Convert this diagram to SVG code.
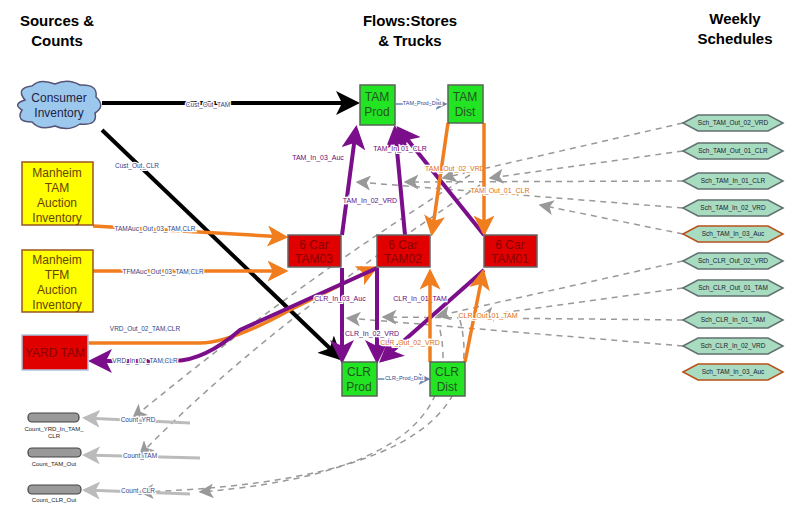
<svg xmlns="http://www.w3.org/2000/svg" width="800" height="514" viewBox="0 0 800 514">
<style>
text{font-family:"Liberation Sans",Arial,sans-serif}
.title{font-size:15px;font-weight:bold;fill:#000;text-anchor:middle}
.nt{font-size:12px;text-anchor:middle}
.lb,.lp,.lo{paint-order:stroke;stroke:#fff;stroke-width:2.5px;text-anchor:middle}
.lb{font-size:6.5px;fill:#334488}
.lp{font-size:7px;fill:#6a0a7a}
.lo{font-size:7px;fill:#e07010}
.green{fill:#22e422;stroke:#556655;stroke-width:1.5}
.red{fill:#e00000;stroke:#666;stroke-width:1.5}
.yel{fill:#ffff00;stroke:#995522;stroke-width:1.5}
.hex{fill:#a8dcc0;stroke:#607070;stroke-width:1.5}
.hexo{fill:#a8dcc0;stroke:#b8501a;stroke-width:1.5}
.ht{font-size:6.5px;fill:#223;text-anchor:middle}
.blk{stroke:#000;stroke-width:4;fill:none;marker-end:url(#mk)}
.pur{stroke:#7b0e8a;stroke-width:4;fill:none;marker-end:url(#mp)}
.org{stroke:#f07d1e;stroke-width:3.5;fill:none;marker-end:url(#mo)}
.bl{stroke:#6a86b0;stroke-width:1.5;fill:none;marker-end:url(#mb)}
.gry{stroke:#bbb;stroke-width:3;fill:none;marker-end:url(#mg)}
.dash{stroke:#999;stroke-width:1.5;fill:none;stroke-dasharray:6,5;marker-end:url(#md)}
.cyl{fill:#999;stroke:#444;stroke-width:1.2}
.ct{font-size:6px;fill:#222;text-anchor:middle}
</style>
<defs>
<marker id="mk" markerWidth="6" markerHeight="6" refX="5" refY="3" orient="auto"><path d="M0,0 L6,3 L0,6 L1.5,3z" fill="#000"/></marker>
<marker id="mp" markerWidth="6" markerHeight="6" refX="5" refY="3" orient="auto"><path d="M0,0 L6,3 L0,6 L1.5,3z" fill="#7b0e8a"/></marker>
<marker id="mo" markerWidth="6" markerHeight="6" refX="5" refY="3" orient="auto"><path d="M0,0 L6,3 L0,6 L1.5,3z" fill="#f07d1e"/></marker>
<marker id="mb" markerWidth="8" markerHeight="8" refX="7" refY="4" orient="auto"><path d="M0,0 L8,4 L0,8 L2,4z" fill="#6a86b0"/></marker>
<marker id="mg" markerWidth="6" markerHeight="6" refX="5" refY="3" orient="auto"><path d="M0,0 L6,3 L0,6 L1.5,3z" fill="#bbb"/></marker>
<marker id="md" markerWidth="10" markerHeight="10" refX="9" refY="5" orient="auto"><path d="M0,0 L10,5 L0,10 L2.5,5z" fill="#999"/></marker>
</defs>
<text class="title" x="57" y="26">Sources &amp;</text>
<text class="title" x="57" y="46">Counts</text>
<text class="title" x="410" y="26">Flows:Stores</text>
<text class="title" x="410" y="46">&amp; Trucks</text>
<text class="title" x="735" y="24">Weekly</text>
<text class="title" x="735" y="44">Schedules</text>

<g id="connectors">
<path class="dash" d="M683,123 L443,178"/>
<path class="dash" d="M683,151 L490,178"/>
<path class="dash" d="M683,181 L405,182"/>
<path class="dash" d="M683,208 L357,182"/>
<path class="dash" d="M683,234 L540,205"/>
<path class="dash" d="M683,261 L437,316"/>
<path class="dash" d="M683,288 L480,316"/>
<path class="dash" d="M683,320 L383,317"/>
<path class="dash" d="M683,346 L347,318"/>
<path class="dash" d="M470,175 Q300,280 133,418"/>
<path class="dash" d="M480,185 Q260,330 140,455"/>
<path class="dash" d="M460,320 Q500,480 140,492"/>
<path class="dash" d="M440,330 Q470,470 200,492"/>
<path class="blk" d="M102,103 L356,103"/>
<text class="lb" x="208" y="107">Cust_Out_TAM</text>
<path class="blk" d="M102,130 L340,358"/>
<text class="lb" x="137" y="168">Cust_Out_CLR</text>
<path class="org" d="M93,226 L285,237"/>
<text class="lb" x="155" y="231">TAMAuc_Out_03_TAM,CLR</text>
<path class="org" d="M93,271 L285,271"/>
<text class="lb" x="163" y="274">TFMAuc_Out_03_TAM,CLR</text>
<path class="org" d="M88,343 L200,343 Q230,343 290,310 L375,268"/>
<text class="lb" x="145" y="331">VRD_Out_02_TAM,CLR</text>
<path class="pur" d="M377,268 L240,330 Q205,360 175,361 L92,361"/>
<text class="lb" x="145" y="363">VRD_In_02_TAM,CLR</text>
<path class="pur" d="M342,235 L356,129"/>
<text class="lp" x="318" y="160">TAM_In_03_Auc</text>
<path class="pur" d="M405,235 L395,129"/>
<text class="lp" x="370" y="203">TAM_In_02_VRD</text>
<path class="pur" d="M484,235 L399,129"/>
<text class="lp" x="400" y="151">TAM_In_01_CLR</text>
<path class="org" d="M448,123 L432,233"/>
<text class="lo" x="455" y="171">TAM_Out_02_VRD</text>
<path class="org" d="M484,123 L484,233"/>
<text class="lo" x="500" y="193">TAM_Out_01_CLR</text>
<path class="bl" d="M396,104 L446,104"/>
<text class="lb" x="422" y="105" style="font-size:5.5px">TAM_Prod_Dist</text>
<path class="pur" d="M342,268 L342,360"/>
<text class="lp" x="340" y="301">CLR_In_03_Auc</text>
<path class="pur" d="M377,268 L377,360"/>
<text class="lp" x="372" y="336">CLR_In_02_VRD</text>
<path class="pur" d="M484,270 L382,360"/>
<text class="lp" x="420" y="301">CLR_In_01_TAM</text>
<path class="org" d="M430,362 L430,272"/>
<text class="lo" x="410" y="345">CLR_Out_02_VRD</text>
<path class="org" d="M465,362 L483,272"/>
<text class="lo" x="488" y="318">CLR_Out_01_TAM</text>
<path class="bl" d="M378,379 L429,379"/>
<text class="lb" x="404" y="380" style="font-size:5.5px">CLR_Prod_Dist</text>
<path class="gry" d="M190,423 L85,418"/>
<text class="lb" x="138" y="422">Count_YRD</text>
<path class="gry" d="M200,458 L85,455"/>
<text class="lb" x="140" y="458">Count_TAM</text>
<path class="gry" d="M190,494 L85,490"/>
<text class="lb" x="138" y="493">Count_CLR</text>
</g>

<g id="consumer"><path d="M25,100 Q15,88 32,86 Q40,78 55,84 Q68,78 80,85 Q98,84 96,97 Q106,106 95,113 Q98,126 80,124 Q68,132 55,126 Q40,131 32,122 Q15,122 22,110 Q12,104 25,100z" fill="#9cc8ee" stroke="#557" stroke-width="1.5"/>
<text class="nt" x="59" y="102" fill="#224">Consumer</text><text class="nt" x="59" y="117" fill="#224">Inventory</text></g>
<g id="tamauc"><rect class="yel" x="22" y="162" width="71" height="63"/>
<text class="nt" x="57" y="177" fill="#664400">Manheim</text><text class="nt" x="57" y="192" fill="#664400">TAM</text><text class="nt" x="57" y="207" fill="#664400">Auction</text><text class="nt" x="57" y="222" fill="#664400">Inventory</text></g>
<g id="tfmauc"><rect class="yel" x="22" y="250" width="71" height="62"/>
<text class="nt" x="57" y="264" fill="#664400">Manheim</text><text class="nt" x="57" y="279" fill="#664400">TFM</text><text class="nt" x="57" y="294" fill="#664400">Auction</text><text class="nt" x="57" y="309" fill="#664400">Inventory</text></g>
<g id="yard"><rect x="22" y="335" width="66" height="35" fill="#e00000" stroke="#aac4e0" stroke-width="1.5"/>
<text class="nt" x="55" y="357" fill="#880000">YARD TAM</text></g>
<g id="tamprod"><rect class="green" x="360" y="85" width="35" height="40"/><text class="nt" x="377" y="101" fill="#225522">TAM</text><text class="nt" x="377" y="116" fill="#225522">Prod</text></g>
<g id="tamdist"><rect class="green" x="448" y="85" width="35" height="38"/><text class="nt" x="465" y="101" fill="#225522">TAM</text><text class="nt" x="465" y="116" fill="#225522">Dist</text></g>
<g id="tam03"><rect class="red" x="288" y="235" width="53" height="32"/><text class="nt" x="314" y="249" fill="#880000">6 Car</text><text class="nt" x="314" y="263" fill="#880000">TAM03</text></g>
<g id="tam02"><rect class="red" x="377" y="235" width="53" height="32"/><text class="nt" x="403" y="249" fill="#880000">6 Car</text><text class="nt" x="403" y="263" fill="#880000">TAM02</text></g>
<g id="tam01"><rect class="red" x="484" y="235" width="53" height="32"/><text class="nt" x="510" y="249" fill="#880000">6 Car</text><text class="nt" x="510" y="263" fill="#880000">TAM01</text></g>
<g id="clrprod"><rect class="green" x="342" y="362" width="35" height="34"/><text class="nt" x="359" y="376" fill="#225522">CLR</text><text class="nt" x="359" y="391" fill="#225522">Prod</text></g>
<g id="clrdist"><rect class="green" x="430" y="362" width="35" height="34"/><text class="nt" x="447" y="376" fill="#225522">CLR</text><text class="nt" x="447" y="391" fill="#225522">Dist</text></g>

<g id="cnt1"><rect class="cyl" x="28" y="413" width="51" height="9" rx="4"/><text class="ct" x="54" y="431">Count_YRD_In_TAM_</text><text class="ct" x="54" y="438">CLR</text></g>
<g id="cnt2"><rect class="cyl" x="28" y="448" width="53" height="9" rx="4"/><text class="ct" x="54" y="466">Count_TAM_Out</text></g>
<g id="cnt3"><rect class="cyl" x="28" y="485" width="53" height="9" rx="4"/><text class="ct" x="54" y="502">Count_CLR_Out</text></g>

<g id="sch1"><polygon class="hex" points="683,123 698,115 768,115 783,123 768,131 698,131"/><text class="ht" x="733" y="125">Sch_TAM_Out_02_VRD</text></g>
<g id="sch2"><polygon class="hex" points="683,151 698,143 768,143 783,151 768,159 698,159"/><text class="ht" x="733" y="153">Sch_TAM_Out_01_CLR</text></g>
<g id="sch3"><polygon class="hex" points="683,181 698,173 768,173 783,181 768,189 698,189"/><text class="ht" x="733" y="183">Sch_TAM_In_01_CLR</text></g>
<g id="sch4"><polygon class="hex" points="683,208 698,200 768,200 783,208 768,216 698,216"/><text class="ht" x="733" y="210">Sch_TAM_In_02_VRD</text></g>
<g id="sch5"><polygon class="hexo" points="683,234 698,226 768,226 783,234 768,242 698,242"/><text class="ht" x="733" y="236">Sch_TAM_In_03_Auc</text></g>
<g id="sch6"><polygon class="hex" points="683,261 698,253 768,253 783,261 768,269 698,269"/><text class="ht" x="733" y="263">Sch_CLR_Out_02_VRD</text></g>
<g id="sch7"><polygon class="hex" points="683,288 698,280 768,280 783,288 768,296 698,296"/><text class="ht" x="733" y="290">Sch_CLR_Out_01_TAM</text></g>
<g id="sch8"><polygon class="hex" points="683,320 698,312 768,312 783,320 768,328 698,328"/><text class="ht" x="733" y="322">Sch_CLR_In_01_TAM</text></g>
<g id="sch9"><polygon class="hex" points="683,346 698,338 768,338 783,346 768,354 698,354"/><text class="ht" x="733" y="348">Sch_CLR_In_02_VRD</text></g>
<g id="sch10"><polygon class="hexo" points="683,372 698,364 768,364 783,372 768,380 698,380"/><text class="ht" x="733" y="374">Sch_TAM_In_03_Auc</text></g>
</svg>
